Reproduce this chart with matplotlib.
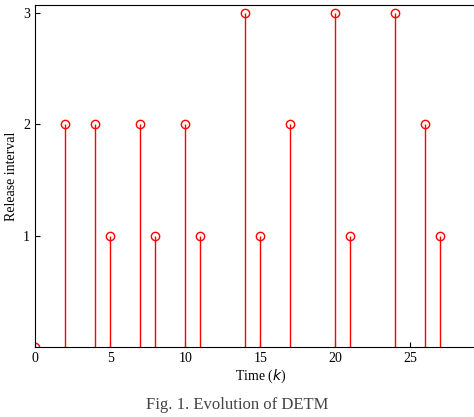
import matplotlib.pyplot as plt

times = [0, 2, 4, 5, 7, 8, 10, 11, 14, 15, 17, 20, 21, 24, 26, 27]
intervals = [0, 2, 2, 1, 2, 1, 2, 1, 3, 1, 2, 3, 1, 3, 2, 1]
xticks = [0, 5, 10, 15, 20, 25]
yticks = [1, 2, 3]

plt.rcParams["font.family"] = ["Liberation Serif", "DejaVu Serif"]
fig = plt.figure(figsize=(4.74, 4.17), dpi=100)
ax = fig.add_axes([0.074, 0.168, 0.95, 0.82])

ml, sl, bl = ax.stem(times, intervals, basefmt=" ")
plt.setp(sl, color="red", linewidth=1)
plt.setp(ml, color="red", markerfacecolor="none", markersize=6, markeredgewidth=1)

ax.set_xlim(0, 30)
ax.set_ylim(0, 3.07)
ax.set_xticks(xticks)
ax.set_yticks(yticks)
ax.tick_params(direction="in", labelsize=10)
ax.set_xlabel("Time ($k$)", fontsize=10, labelpad=2)
ax.set_ylabel("Release interval", fontsize=10, labelpad=4)
fig.text(0.5, 0.02, "Fig. 1. Evolution of DETM", ha="center", fontsize=12, color="#444444")

fig.savefig("out.png", dpi=100)
